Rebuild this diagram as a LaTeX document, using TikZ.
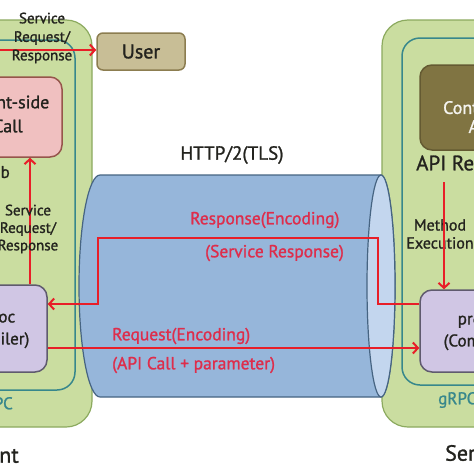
\documentclass[tikz,border=0pt]{standalone}
\usepackage{fontspec}
\setmainfont{PT Sans}[FakeBold=1.2]
\usetikzlibrary{arrows.meta}
\definecolor{grn}{RGB}{202,221,160}
\definecolor{grnb}{RGB}{140,170,95}
\definecolor{tealc}{RGB}{55,135,140}
\definecolor{pinkf}{RGB}{240,192,192}
\definecolor{pinkb}{RGB}{150,85,75}
\definecolor{purf}{RGB}{208,198,228}
\definecolor{purb}{RGB}{95,90,110}
\definecolor{userf}{RGB}{200,190,150}
\definecolor{userb}{RGB}{140,125,80}
\definecolor{olivef}{RGB}{128,116,66}
\definecolor{oliveb}{RGB}{100,90,50}
\definecolor{cylf}{RGB}{150,182,218}
\definecolor{cylend}{RGB}{195,214,238}
\definecolor{cylb}{RGB}{70,100,130}
\definecolor{arr}{RGB}{232,30,40}
\definecolor{lbl}{RGB}{222,45,75}
\definecolor{txt}{RGB}{35,35,30}
\tikzset{
  fs/.style={font=\fontsize{#1}{#1}\selectfont},
  greenbox/.style={draw=grnb, fill=grn, line width=1.2pt, rounded corners=26pt, inner sep=0pt},
  tealbox/.style={draw=tealc, line width=1.5pt, rounded corners=18pt, inner sep=0pt},
  pinkbox/.style={draw=pinkb, fill=pinkf, line width=1.5pt, rounded corners=12pt, inner sep=0pt},
  purbox/.style={draw=purb, fill=purf, line width=1.5pt, rounded corners=12pt, inner sep=0pt, text=txt, align=center, fs=17},
  userbox/.style={draw=userb, fill=userf, line width=1.5pt, rounded corners=6pt, inner sep=0pt, text=txt, fs=20},
  olivebox/.style={draw=oliveb, fill=olivef, line width=1.5pt, rounded corners=12pt, inner sep=0pt},
  redarr/.style={draw=arr, line width=2pt, -{Straight Barb[length=5pt,width=11pt,line width=2pt]}},
  lbltext/.style={text=lbl, fs=17.5, inner sep=0pt, anchor=west},
  blktext/.style={text=txt, inner sep=0pt, align=center},
}
\begin{document}
\begin{tikzpicture}[x=1pt,y=-1pt]
\useasboundingbox[fill=white] (0,0) rectangle (474,474);
\begin{scope}
\clip (0,0) rectangle (474,474);
% client side
\node[greenbox, minimum width=132pt, minimum height=407pt] (lgreen) at (26,223.5) {};
\node[tealbox, minimum width=115pt, minimum height=350pt] (lteal) at (17.5,215) {};
\node[text=tealc, fs=17, inner sep=0pt, anchor=east] (lgrpc) at (13,405) {gRPC};
\node[pinkbox, minimum width=122pt, minimum height=80pt] (pink) at (1,117) {};
\node[blktext, fs=18] (pinktxt) at (8,114) {Client-side\\[6pt]Call};
\node[blktext, fs=17, anchor=east] (stub) at (10,172) {Stub};
\node[purbox, minimum width=110pt, minimum height=87pt] (lpur) at (-8,328.5) {};
\node[blktext, fs=17] (lpurtxt) at (-8,330) {protoc\\[5pt](Compiler)};
\node[userbox, minimum width=88pt, minimum height=37pt] (user) at (141,51.5) {User};
\node[blktext, fs=22, anchor=east] (client) at (19,455) {Client};
% server side
\node[greenbox, minimum width=178pt, minimum height=407pt] (rgreen) at (471,223.5) {};
\node[tealbox, minimum width=158pt, minimum height=347pt] (rteal) at (481,211.5) {};
\node[text=tealc, fs=17, inner sep=0pt, anchor=west] (rgrpc) at (438,400) {gRPC};
\node[olivebox, minimum width=123pt, minimum height=85pt] (olive) at (481.5,107.5) {};
\node[blktext, fs=18, text=white!92!olivef] (olivetxt) at (481.5,117) {Controller\\[1pt]API};
\node[blktext, fs=21, anchor=west] (apireq) at (416,165) {API Request};
\node[blktext, fs=16] (method) at (440,234) {Method\\[2pt]Execution};
\node[purbox, minimum width=122pt, minimum height=82pt] (rpur) at (481,331) {};
\node[blktext, fs=17] (rpurtxt) at (481,332) {protoc\\[5pt](Compiler)};
\node[blktext, fs=22, anchor=west] (server) at (445,453) {Server};
% cylinder
\path[draw=cylb, fill=cylf, line width=1.2pt] (100,175) -- (381,175)
  arc[start angle=90, end angle=-90, x radius=14pt, y radius=111pt]
  -- (100,397) arc[start angle=270, end angle=90, x radius=21pt, y radius=111pt] -- cycle;
\path[draw=cylb, fill=cylend, line width=1.2pt] (381,286) ellipse[x radius=14pt, y radius=111pt];
\node[blktext, fs=19] (http) at (232,155) {HTTP/2(TLS)};
% connectors
\coordinate (topsrc) at (-10,50);
\draw[redarr] (topsrc) -- (user.west |- topsrc);
\node[blktext, fs=15] (toplbl) at (42,38) {Service\\[3.5pt]Request/\\[3.5pt]Response};
\coordinate (lv) at (30,0);
\draw[redarr] (lv |- lpur.north) -- (lv |- pink.south);
\node[blktext, fs=15] (midlbl) at (28,229) {Service\\[2.5pt]Request/\\[2.5pt]Response};
\coordinate (rv) at (444,0);
\draw[redarr] (444,182) -- (rv |- rpur.north);
\coordinate (rs) at (0,304);
\coordinate (rsR) at (378,238);
\coordinate (rsL) at (98,238);
\draw[redarr] (rpur.west |- rs) -| (rsR) -- (rsL) |- (lpur.east |- rs);
\coordinate (rq) at (0,348);
\draw[redarr] (lpur.east |- rq) -- (rpur.west |- rq);
\node[lbltext] (resp1) at (190,220) {Response(Encoding)};
\node[lbltext] (resp2) at (205,253) {(Service Response)};
\node[lbltext] (req1) at (112,336) {Request(Encoding)};
\node[lbltext] (req2) at (112,365) {(API Call + parameter)};
\end{scope}
\end{tikzpicture}
\end{document}
